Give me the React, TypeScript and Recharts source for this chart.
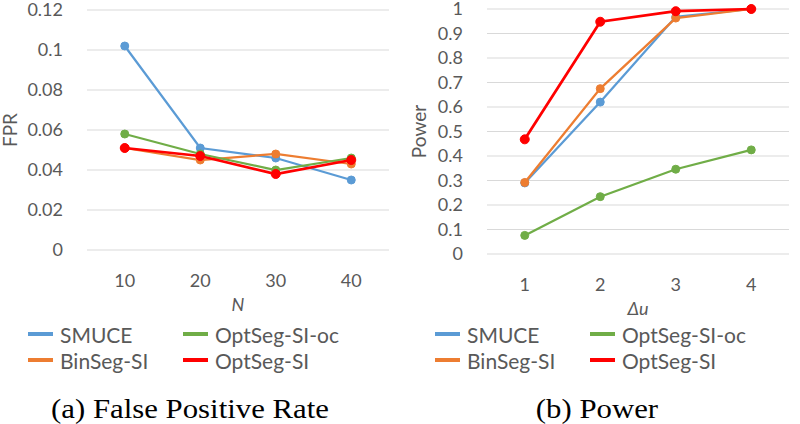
import { CartesianGrid, Line, LineChart, XAxis, YAxis } from "recharts";

// Panel (a): false positive rate against N
const nValues = [10, 20, 30, 40];
const fprSmuce = [0.102, 0.051, 0.046, 0.035];
const fprBinSeg = [0.051, 0.045, 0.048, 0.043];
const fprOptSegOc = [0.058, 0.048, 0.04, 0.046];
const fprOptSeg = [0.051, 0.047, 0.038, 0.045];
const fprTicks = [0, 0.02, 0.04, 0.06, 0.08, 0.1, 0.12];

// Panel (b): power against delta u
const duValues = [1, 2, 3, 4];
const powSmuce = [0.29, 0.62, 0.968, 1.0];
const powBinSeg = [0.292, 0.675, 0.963, 1.0];
const powOptSegOc = [0.076, 0.234, 0.346, 0.425];
const powOptSeg = [0.468, 0.948, 0.991, 1.0];
const powTicks = [0, 0.1, 0.2, 0.3, 0.4, 0.5, 0.6, 0.7, 0.8, 0.9, 1];

const seriesNames = ["SMUCE", "BinSeg-SI", "OptSeg-SI-oc", "OptSeg-SI"];
const seriesColors = ["#5B9BD5", "#ED7D31", "#70AD47", "#FF0000"];
// legend is laid out in two columns, Excel style
const legendOrder = [
  ["SMUCE", "OptSeg-SI-oc"],
  ["BinSeg-SI", "OptSeg-SI"],
];

const FONT = "Lato, 'Noto Sans', sans-serif";
const GREY = "#595959";
const SERIF = "'Liberation Serif', 'Times New Roman', serif";

const fprData = nValues.map((n, i) => ({
  x: n,
  "SMUCE": fprSmuce[i],
  "BinSeg-SI": fprBinSeg[i],
  "OptSeg-SI-oc": fprOptSegOc[i],
  "OptSeg-SI": fprOptSeg[i],
}));

const powData = duValues.map((d, i) => ({
  x: d,
  "SMUCE": powSmuce[i],
  "BinSeg-SI": powBinSeg[i],
  "OptSeg-SI-oc": powOptSegOc[i],
  "OptSeg-SI": powOptSeg[i],
}));

function fmt(v: number) {
  return String(Math.round(v * 1000) / 1000);
}

function LegendBlock({ left }: { left: number }) {
  const colLeft = [28, 183];
  return (
    <div style={{ position: "absolute", left, top: 321, fontFamily: FONT, fontSize: 21, color: GREY }}>
      {legendOrder.map((row, r) =>
        row.map((name, c) => {
          const color = seriesColors[seriesNames.indexOf(name)];
          return (
            <div
              key={name}
              style={{
                position: "absolute",
                left: colLeft[c],
                top: r * 26,
                height: 26,
                display: "flex",
                alignItems: "center",
                whiteSpace: "nowrap",
              }}
            >
              <span style={{ display: "inline-block", width: 25, height: 4, background: color, marginRight: 7 }} />
              {name}
            </div>
          );
        })
      )}
    </div>
  );
}

function Caption({ left, width, text }: { left: number; width: number; text: string }) {
  return (
    <div
      style={{
        position: "absolute",
        left,
        width,
        top: 393,
        textAlign: "center",
        fontFamily: SERIF,
        fontSize: 27,
        color: "#000",
        lineHeight: "32px",
        whiteSpace: "nowrap",
        transform: "scaleX(1.14)",
      }}
    >
      {text}
    </div>
  );
}

function Panel({
  data,
  ticks,
  domain,
  yLabel,
  xLabel,
  top,
  height,
  labelOffset,
}: {
  data: any[];
  ticks: number[];
  domain: [number, number];
  yLabel: string;
  xLabel: string;
  top: number;
  height: number;
  labelOffset: number;
}) {
  return (
    <LineChart
      width={400}
      height={height}
      data={data}
      margin={{ top, right: 11, left: 0, bottom: 30 }}
    >
      <CartesianGrid vertical={false} stroke="#D9D9D9" strokeWidth={1} />
      <XAxis
        dataKey="x"
        type="category"
        padding={{ left: 37.75, right: 37.75 }}
        axisLine={false}
        tickLine={false}
        tickSize={0}
        tickMargin={24}
        height={40}
        tick={{ fill: GREY, fontSize: 18, fontFamily: FONT }}
        label={{
          value: xLabel,
          position: "bottom",
          offset: 8,
          fill: GREY,
          fontSize: 18,
          fontFamily: FONT,
          fontStyle: "italic",
        }}
      />
      <YAxis
        domain={domain}
        ticks={ticks}
        interval={0}
        width={87}
        axisLine={false}
        tickLine={false}
        tickSize={0}
        tickMargin={24}
        tickFormatter={fmt}
        tick={{ fill: GREY, fontSize: 18, fontFamily: FONT }}
        label={{
          value: yLabel,
          angle: -90,
          position: "insideLeft",
          offset: labelOffset,
          fill: GREY,
          fontSize: 19,
          fontFamily: FONT,
          style: { textAnchor: "middle" },
        }}
      />
      {seriesNames.map((name, i) => (
        <Line
          key={name}
          dataKey={name}
          type="linear"
          stroke={seriesColors[i]}
          strokeWidth={name === "OptSeg-SI" ? 2.75 : 2.25}
          dot={{
            r: name === "OptSeg-SI" ? 4.5 : 4,
            fill: seriesColors[i],
            stroke: seriesColors[i],
            strokeWidth: 1,
          }}
          activeDot={false}
          isAnimationActive={false}
        />
      ))}
    </LineChart>
  );
}

export default function App() {
  return (
    <div style={{ position: "absolute", left: 0, top: 0, width: 800, height: 424, background: "#fff", overflow: "hidden" }}>
      <div style={{ position: "absolute", left: 0, top: 0 }}>
        <Panel data={fprData} ticks={fprTicks} domain={[0, 0.12]} yLabel="FPR" xLabel="N" top={10} height={320} labelOffset={10} />
      </div>
      <div style={{ position: "absolute", left: 400, top: 0 }}>
        <Panel data={powData} ticks={powTicks} domain={[0, 1]} yLabel="Power" xLabel="Δu" top={9} height={324} labelOffset={19} />
      </div>
      <LegendBlock left={0} />
      <LegendBlock left={407} />
      <Caption left={0} width={380} text="(a) False Positive Rate" />
      <Caption left={400} width={394} text="(b) Power" />
    </div>
  );
}
